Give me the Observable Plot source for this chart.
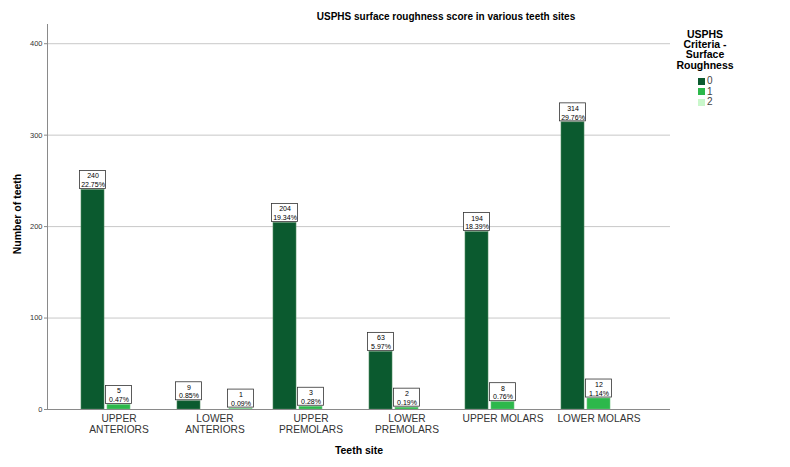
<!DOCTYPE html>
<html>
<head>
<meta charset="utf-8">
<script src="https://cdn.jsdelivr.net/npm/d3@7"></script>
<script src="https://cdn.jsdelivr.net/npm/@observablehq/plot@0.6"></script>
<style>
  body { margin: 0; background: #fff; font-family: "Liberation Sans", Arial, sans-serif; }
  #wrap { position: relative; width: 790px; height: 467px; overflow: hidden; background: #fff; }
  #chart { position: absolute; left: 0; top: 0; }
  .ov { position: absolute; white-space: nowrap; line-height: 1; color: #000; }
  #title { left: 446px; top: 12px; transform: translateX(-50%); font-size: 10px; font-weight: bold; }
  #xlab { left: 359px; top: 445px; transform: translateX(-50%); font-size: 10.5px; font-weight: bold; }
  #ylab { left: 17px; top: 214px; transform: translate(-50%, -50%) rotate(-90deg); font-size: 10.5px; font-weight: bold; }
  #legend { left: 705px; top: 29px; transform: translateX(-50%); text-align: center; white-space: pre; font-size: 10.5px; font-weight: bold; line-height: 10.2px; }
  #items { left: 698px; top: 76px; }
  #items .it { display: flex; align-items: center; height: 10.5px; font-size: 10px; color: #444; }
  #items .sw { width: 7px; height: 7px; margin-right: 2px; }
</style>
</head>
<body>
<div id="wrap">
  <div id="chart"></div>
  <div class="ov" id="title"></div>
  <div class="ov" id="xlab"></div>
  <div class="ov" id="ylab"></div>
  <div class="ov" id="legend"></div>
  <div class="ov" id="items"></div>
</div>
<script>
const chartTitle = "USPHS surface roughness score in various teeth sites";
const xTitle = "Teeth site";
const yTitle = "Number of teeth";
const legendTitle = ["USPHS", "Criteria -", "Surface", "Roughness"];
const seriesNames = ["0", "1", "2"];
const seriesColors = ["#0b5a2f", "#2db84b", "#c9f7cb"];
const categories = ["UPPER ANTERIORS", "LOWER ANTERIORS", "UPPER PREMOLARS", "LOWER PREMOLARS", "UPPER MOLARS", "LOWER MOLARS"];
const tickLabels = ["UPPER\nANTERIORS", "LOWER\nANTERIORS", "UPPER\nPREMOLARS", "LOWER\nPREMOLARS", "UPPER MOLARS", "LOWER MOLARS"];
const series0 = [240, 9, 204, 63, 194, 314];
const series1 = [5, 0, 3, 2, 8, 12];
const series2 = [0, 1, 0, 0, 0, 0];
const yTicks = [0, 100, 200, 300, 400];

const allSeries = [series0, series1, series2];
const total = d3.sum(allSeries.flat());
const rows = [];
categories.forEach((c, i) => {
  allSeries.forEach((arr, s) => {
    rows.push({cat: c, s, v: arr[i], pct: (arr[i] / total * 100).toFixed(2) + "%"});
  });
});

const slot = 26;
const marks = [
  Plot.ruleY(yTicks.filter(d => d > 0), {stroke: "#c8c8c8", strokeWidth: 1})
];
for (let s = 0; s < 3; s++) {
  const data = rows.filter(d => d.s === s && d.v > 0);
  const dx = (s - 1) * slot;
  marks.push(Plot.barY(data, {x: "cat", y1: 0, y2: "v", dx, fill: seriesColors[s], stroke: s === 0 ? "#4f8a60" : "#6cc77f", strokeWidth: 0.6}));
}
for (let s = 0; s < 3; s++) {
  const data = rows.filter(d => d.s === s && d.v > 0);
  const dx = (s - 1) * slot;
  marks.push(Plot.barY(data, {x: "cat", y1: "v", y2: "v", dx, insetTop: -19, insetBottom: 1, insetLeft: -1.5, insetRight: -1.5, fill: "white", stroke: "#333", strokeWidth: 0.8}));
  marks.push(Plot.text(data, {x: "cat", y: "v", dx, dy: -10, text: d => `${d.v}\n${d.pct}`, lineAnchor: "middle", lineHeight: 1.25, fontSize: 7, fill: "#000"}));
}
marks.push(Plot.ruleY([0], {stroke: "#8a8a8a", strokeWidth: 1}));
marks.push(Plot.frame({anchor: "left", stroke: "#8a8a8a"}));
marks.push(Plot.axisY({ticks: yTicks, tickSize: 3, tickPadding: 2, fontSize: 7.5, label: null, stroke: "#8a8a8a", fill: "#333"}));
marks.push(Plot.axisX({tickSize: 0, tickPadding: 5, fontSize: 10.2, label: null, fill: "#333", lineHeight: 1.06, tickFormat: d => tickLabels[categories.indexOf(d)]}));

const chart = Plot.plot({
  width: 790,
  height: 467,
  marginTop: 24,
  marginBottom: 58,
  marginLeft: 47,
  marginRight: 120,
  style: {fontFamily: "'Liberation Sans', Arial, sans-serif", background: "white"},
  x: {domain: categories, paddingInner: 0.761, paddingOuter: 0.622, align: 0.5},
  y: {domain: [0, 421]},
  marks
});
document.getElementById("chart").appendChild(chart);

document.getElementById("title").textContent = chartTitle;
document.getElementById("xlab").textContent = xTitle;
document.getElementById("ylab").textContent = yTitle;
document.getElementById("legend").textContent = legendTitle.join("\n");
const items = document.getElementById("items");
seriesNames.forEach((n, i) => {
  const it = document.createElement("div"); it.className = "it";
  const sw = document.createElement("span"); sw.className = "sw"; sw.style.background = seriesColors[i];
  const tx = document.createElement("span"); tx.textContent = n;
  it.appendChild(sw); it.appendChild(tx); items.appendChild(it);
});
</script>
</body>
</html>
